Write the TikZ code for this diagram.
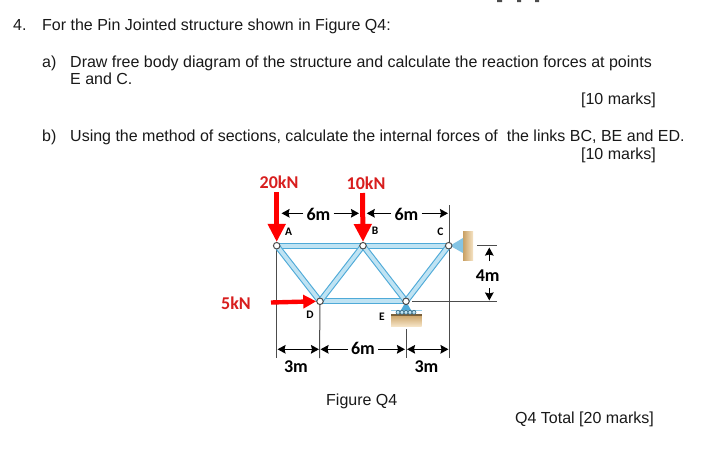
\documentclass[tikz,border=0pt]{standalone}
\usepackage{fontspec}
\setmainfont{Liberation Sans}
\newfontfamily\figfont{Carlito}
\usetikzlibrary{arrows.meta}
\definecolor{memberedge}{HTML}{4FAAD8}
\definecolor{memberfill}{HTML}{BFE3F3}
\definecolor{loadred}{HTML}{FF0000}
\definecolor{labelred}{HTML}{D81E1E}
\definecolor{wallA}{HTML}{F5E3C4}
\definecolor{wallB}{HTML}{C9A063}
\tikzset{
  x=1pt,y=-1pt,
  txt/.style={anchor=base west,inner sep=0pt,font=\fontsize{16}{18}\selectfont,text=black!90},
  txtr/.style={txt,anchor=base east},
  fig/.style={inner sep=0pt,font=\figfont\bfseries\fontsize{18}{20}\selectfont},
  loadlabel/.style={fig,text=labelred},
  member/.style={line width=1.1pt,draw=memberedge,double=memberfill,double distance=3.8pt},
  pin/.style={circle,draw=black!70,fill=white,line width=1pt,minimum size=6.5pt,inner sep=0pt},
  letter/.style={inner sep=0pt,font=\figfont\bfseries\fontsize{11.5}{13}\selectfont},
  dimline/.style={draw=black!70,line width=1pt},
  dimarrow/.style={line width=1.6pt,-{Stealth[length=8pt,width=8.5pt,inset=1pt]},black},
  dimboth/.style={line width=1.6pt,{Stealth[length=8pt,width=8.5pt,inset=1pt]}-{Stealth[length=8pt,width=8.5pt,inset=1pt]},black},
  loadarrow/.style={draw=loadred,line width=5pt,-{Triangle[length=18pt,width=17pt]}},
  sidearrow/.style={draw=loadred,line width=4.4pt,-{Triangle[length=13pt,width=13pt]}},
}
\begin{document}
\begin{tikzpicture}
\useasboundingbox (0,0) rectangle (725,463);
\fill[white] (0,0) rectangle (725,463);
% scan specks at the top edge
\fill[black!70] (497,0) rectangle (502,2) (517,0) rectangle (521,2) (535,0) rectangle (539,2);
% question text
\node[txt] (q4) at (13,30) {4.};
\node[txt] (q4t) at (42,30) {For the Pin Jointed structure shown in Figure Q4:};
\node[txt] (qa) at (42,67) {a)};
\node[txt] (qat) at (70,67) {Draw free body diagram of the structure and calculate the reaction forces at points};
\node[txt] (qat2) at (70,84) {E and C.};
\node[txtr] (ma) at (656,104) {[10 marks]};
\node[txt] (qb) at (42,141) {b)};
\node[txt] (qbt) at (70,141) {Using the method of sections, calculate the internal forces of\ \ the links BC, BE and ED.};
\node[txtr] (mb) at (656,159) {[10 marks]};
\node[txt] (cap) at (326,405) {Figure Q4};
\node[txt] (tot) at (515,423) {Q4 Total [20 marks]};
% joints
\coordinate (A) at (276.7,245.7);
\coordinate (B) at (363,245.7);
\coordinate (C) at (448.7,245.7);
\coordinate (D) at (320,301.3);
\coordinate (E) at (406,301.3);
% dimension reference lines
\coordinate (a1) at (276.7,358); \coordinate (c0) at (449.3,205); \coordinate (c1) at (449.3,358);
\coordinate (d1) at (319.5,358); \coordinate (e0) at (406,329); \coordinate (e1) at (406,358);
\coordinate (h1) at (477,245.7); \coordinate (h2) at (497,245.7);
\coordinate (h3) at (412,301.3); \coordinate (h4) at (497,301.3);
\draw[dimline] (A) -- (a1);
\draw[dimline] (c0) -- (c1);
\draw[dimline] (D) -- (d1);
\draw[dimline] (e0) -- (e1);
\draw[dimline] (h1) -- (h2);
\draw[dimline] (h3) -- (h4);
% wall at C
\fill[left color=wallB,right color=wallA] (463,231) rectangle (473,260);
\fill[memberedge!70!white] (450,245.7) -- (463,238) -- (463,253) -- cycle;
% roller at E
\fill[top color=wallB,bottom color=wallA] (391,314.5) rectangle (421.5,326);
\draw[wallB!60!black,line width=1.1pt] (391,315) -- (421.5,315);
\draw[memberedge!60!white,line width=0.7pt] (391,310) -- (421.5,310);
\fill[memberedge] (406,301.3) -- (401,310) -- (411,310) -- cycle;
\foreach \rx in {398,402,406,410,414}{\draw[draw=memberedge!60!black,fill=memberfill,line width=0.6pt] (\rx,312.3) circle (2pt);}
% members
\draw[member] (A) -- (B);
\draw[member] (B) -- (C);
\draw[member] (D) -- (E);
\draw[member] (A) -- (D);
\draw[member] (D) -- (B);
\draw[member] (B) -- (E);
\draw[member] (E) -- (C);
% pins
\node[pin] (pA) at (A) {};
\node[pin] (pB) at (B) {};
\node[pin] (pC) at (C) {};
\node[pin] (pD) at (D) {};
\node[pin] (pE) at (E) {};
% letters
\node[letter] (lA) at (288.5,232) {A};
\node[letter] (lB) at (375,230.5) {B};
\node[letter] (lC) at (440.5,232) {C};
\node[letter] (lD) at (310,315) {D};
\node[letter] (lE) at (382,316.5) {E};
% loads
\node[loadlabel] (l20) at (279,182) {20kN};
\node[loadlabel] (l10) at (366,183) {10kN};
\node[loadlabel] (l5) at (236,303) {5kN};
\coordinate (f20) at (276.7,192);
\coordinate (f10) at (362.5,193);
\coordinate (f5) at (271,302.5);
\draw[loadarrow] (f20) -- (pA.north);
\draw[loadarrow] (f10) -- (pB.north);
\draw[sidearrow] (f5) -- (pD.west);
% dimensions, top
\node[fig,text=black] (t1) at (318.5,214) {6m};
\node[fig,text=black] (t2) at (406.5,214) {6m};
\coordinate (t1l) at (281.5,213.3); \coordinate (t1r) at (359,213.3);
\coordinate (t2l) at (366.7,213.3); \coordinate (t2r) at (448,213.3);
\draw[dimarrow] (t1.west) ++(-3,-0.7) -- (t1l);
\draw[dimarrow] (t1.east) ++(3,-0.7) -- (t1r);
\draw[dimarrow] (t2.west) ++(-3,-0.7) -- (t2l);
\draw[dimarrow] (t2.east) ++(3,-0.7) -- (t2r);
% dimensions, bottom
\node[fig,text=black] (b2) at (363,348.5) {6m};
\node[fig,text=black] (b1) at (296,367) {3m};
\node[fig,text=black] (b3) at (426.5,367) {3m};
\coordinate (b1l) at (277.5,349.3); \coordinate (b1r) at (319,349.3);
\coordinate (b2l) at (320.5,349.3); \coordinate (b2r) at (405,349.3);
\coordinate (b3l) at (407,349.3); \coordinate (b3r) at (448.5,349.3);
\draw[dimboth] (b1l) -- (b1r);
\draw[dimarrow] (b2.west) ++(-3,0.8) -- (b2l);
\draw[dimarrow] (b2.east) ++(3,0.8) -- (b2r);
\draw[dimboth] (b3l) -- (b3r);
% dimension, right
\node[fig,text=black] (r4) at (487.7,276) {4m};
\coordinate (r4t) at (489.3,247.5); \coordinate (r4b) at (489.3,300.5);
\coordinate (r4u) at (489.3,261); \coordinate (r4d) at (489.3,288);
\draw[dimarrow] (r4u) -- (r4t);
\draw[dimarrow] (r4d) -- (r4b);
\end{tikzpicture}
\end{document}
